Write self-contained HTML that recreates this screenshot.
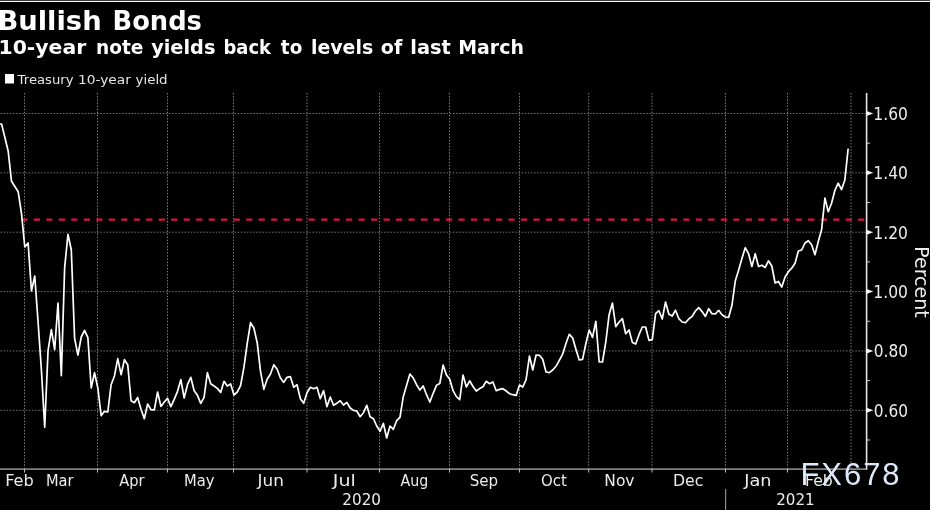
<!DOCTYPE html>
<html lang="en"><head><meta charset="utf-8"><title>Bullish Bonds</title>
<style>
html,body{margin:0;padding:0;background:#000;}
body{width:930px;height:510px;overflow:hidden;position:relative;font-family:"DejaVu Sans", "Liberation Sans", sans-serif;}
svg{will-change:transform;display:block;position:absolute;left:0;top:0;}
text{font-family:"DejaVu Sans", "Liberation Sans", sans-serif;}
.b{font-weight:bold;}
</style></head><body>
<svg width="930" height="510" viewBox="0 0 930 510">
<rect x="0" y="0" width="930" height="510" fill="#000"/>
<rect x="0" y="0" width="930" height="1" fill="#3e3e3e"/>
<rect x="0" y="1" width="930" height="1" fill="#f6f6f6"/>

<text class="b" y="29.6" font-size="27.4" fill="#fff"><tspan x="-2.59" textLength="104.21" lengthAdjust="spacingAndGlyphs">Bullish</tspan> <tspan x="112.5" textLength="89.46" lengthAdjust="spacingAndGlyphs">Bonds</tspan></text>
<text class="b" y="54.3" font-size="19.4" fill="#fff"><tspan x="-1.5" textLength="87.77" lengthAdjust="spacingAndGlyphs">10-year</tspan> <tspan x="95.99" textLength="47.34" lengthAdjust="spacingAndGlyphs">note</tspan> <tspan x="151.13" textLength="64.26" lengthAdjust="spacingAndGlyphs">yields</tspan> <tspan x="223.48" textLength="47.52" lengthAdjust="spacingAndGlyphs">back</tspan> <tspan x="280.86" textLength="21.45" lengthAdjust="spacingAndGlyphs">to</tspan> <tspan x="310.99" textLength="62.17" lengthAdjust="spacingAndGlyphs">levels</tspan> <tspan x="380.83" textLength="21.43" lengthAdjust="spacingAndGlyphs">of</tspan> <tspan x="410.27" textLength="40.46" lengthAdjust="spacingAndGlyphs">last</tspan> <tspan x="458.28" textLength="65.6" lengthAdjust="spacingAndGlyphs">March</tspan></text>
<rect x="5" y="74" width="9" height="9.5" fill="#fff"/>
<text y="84" font-size="12.9" fill="#e6e6e6"><tspan x="17.64" textLength="55.96" lengthAdjust="spacingAndGlyphs">Treasury</tspan> <tspan x="77.94" textLength="53.02" lengthAdjust="spacingAndGlyphs">10-year</tspan> <tspan x="135.49" textLength="32.13" lengthAdjust="spacingAndGlyphs">yield</tspan></text>
<g stroke="#7c7c7c" stroke-width="1" stroke-dasharray="1.5 1.62" fill="none">
<line x1="24.5" y1="93" x2="24.5" y2="468.5"/>
<line x1="97.5" y1="93" x2="97.5" y2="468.5"/>
<line x1="167.5" y1="93" x2="167.5" y2="468.5"/>
<line x1="233.5" y1="93" x2="233.5" y2="468.5"/>
<line x1="307" y1="93" x2="307" y2="468.5"/>
<line x1="379.5" y1="93" x2="379.5" y2="468.5"/>
<line x1="449.5" y1="93" x2="449.5" y2="468.5"/>
<line x1="519.5" y1="93" x2="519.5" y2="468.5"/>
<line x1="588.7" y1="93" x2="588.7" y2="468.5"/>
<line x1="652.0" y1="93" x2="652.0" y2="468.5"/>
<line x1="725.5" y1="93" x2="725.5" y2="468.5"/>
<line x1="787.5" y1="93" x2="787.5" y2="468.5"/>
<line x1="851.0" y1="93" x2="851.0" y2="468.5"/>
<line x1="0.5" y1="113.50" x2="866.5" y2="113.50" stroke="#727272"/>
<line x1="0.5" y1="172.86" x2="866.5" y2="172.86" stroke="#727272"/>
<line x1="0.5" y1="232.22" x2="866.5" y2="232.22" stroke="#727272"/>
<line x1="0.5" y1="291.58" x2="866.5" y2="291.58" stroke="#727272"/>
<line x1="0.5" y1="350.94" x2="866.5" y2="350.94" stroke="#727272"/>
<line x1="0.5" y1="410.30" x2="866.5" y2="410.30" stroke="#727272"/>
</g>
<line x1="21.3" y1="219.7" x2="866" y2="219.7" stroke="#dc143c" stroke-width="2.2" stroke-dasharray="6.2 6.29"/>
<polyline points="0,124 1.56,124 4.88,137.5 8.2,151.3 11.52,181.3 14.84,186.5 18.16,191.7 21.48,213.3 24.8,247 28.12,243 31.44,291 34.76,276 38.08,322 41.4,370 44.72,427.3 48.04,350.7 51.36,329.7 54.68,349.6 58,303 61.32,375.7 64.64,267.7 67.96,234.3 71.28,249.7 74.6,338.3 77.92,355 81.24,337 84.56,330.3 87.88,337.7 91.2,388 94.52,372.7 97.84,388 101.16,415.7 104.48,411.3 107.8,412 111.12,384.7 114.44,376 117.76,358.7 121.08,374.7 124.4,359.7 127.72,364.7 131.04,400.7 134.36,402.7 137.68,397.5 141,409.3 144.32,418.7 147.64,404 150.96,409.6 154.28,410 157.6,392 160.92,406.4 164.24,402 167.56,398.4 170.88,406.7 174.2,399.3 177.52,391.3 180.84,379.7 184.16,398 187.48,384.7 190.8,377.3 194.12,390.7 197.44,395.3 200.76,403.3 204.08,397.3 207.4,372.7 210.72,383.7 214.04,386 217.36,388.4 220.68,392.4 224,381.3 227.32,386 230.64,384 233.96,395 237.28,392 240.6,385.5 243.92,367.3 247.24,343.3 250.56,322.7 253.88,328 257.2,342.7 260.52,371.3 263.84,389.3 267.16,379.3 270.48,374 273.8,364.7 277.12,369.3 280.44,378 283.76,382.4 287.08,377.3 290.4,376.7 293.72,387.3 297.04,384.7 300.36,398.7 303.68,403.3 307,392.7 310.32,387.3 313.64,388.7 316.96,387.3 320.28,398.7 323.6,390.7 326.92,406.7 330.24,397 333.56,405.3 336.88,403.3 340.2,400.7 343.52,405 346.84,402.4 350.16,408 353.48,410.4 356.8,411 360.12,416.7 363.44,412.7 366.76,405.3 370.08,416.7 373.4,418.7 376.72,426 380.04,431.3 383.36,423.3 386.68,438 390,426 393.32,429.3 396.64,420.7 399.96,417.3 403.28,396.7 406.6,385.3 409.92,374 413.24,378 416.56,384.7 419.88,390 423.2,386 426.52,394.7 429.84,402 433.16,393.3 436.48,385.3 439.8,383.5 443.12,365 446.44,375 449.76,379.2 453.08,390.7 456.4,396.7 459.72,399.7 463.04,375 466.36,387 469.68,380.8 473,386.5 476.32,391 479.64,388.6 482.96,386.7 486.28,381.3 489.6,383.7 492.92,382 496.24,390.7 499.56,389.4 502.88,388.7 506.2,391 509.52,393.7 512.84,394.7 516.16,395.4 519.48,385 522.8,387 526.12,379.7 529.44,356 532.76,370 536.08,355 539.4,355.3 542.72,359.3 546.04,372 549.36,372.6 552.68,370 556,366.3 559.32,360.3 562.64,354.2 565.96,343.5 569.28,334.3 572.6,337.8 575.92,349.2 579.24,360 582.56,359.3 585.88,343.5 589.2,330 592.52,337.3 595.84,321.3 599.16,362 602.48,362 605.8,342 609.12,314.7 612.44,303 615.76,326.7 619.08,322 622.4,318.7 625.72,333.7 629.04,330 632.36,342.4 635.68,344 639,334.7 642.32,327 645.64,327 648.96,340.4 652.28,339.6 655.6,313.7 658.92,310.7 662.24,319 665.56,302 668.88,314.3 672.2,316 675.52,310.2 678.84,318.7 682.16,322 685.48,322.7 688.8,319 692.12,316.4 695.44,311 698.76,307.6 702.08,311.6 705.4,316.4 708.72,308.7 712.04,313.7 715.36,314 718.68,310.3 722,314.7 725.32,317 728.64,317.3 731.96,305.3 735.28,281 738.6,270.2 741.92,258.5 745.24,247.7 748.56,253.7 751.88,266.5 755.2,253.7 758.52,266.5 761.84,265.2 765.16,267.5 768.48,260.8 771.8,266 775.12,283 778.44,281.5 781.76,287 785.08,277 788.4,271.7 791.72,268.2 795.04,263.3 798.36,251 801.68,250 805,243 808.32,240.7 811.64,244.7 814.96,254.7 818.28,241.5 821.6,229.8 824.92,198 828.24,211.7 831.56,203.3 834.88,190.5 838.2,183.2 841.52,189.7 844.84,180 848.16,148.7" fill="none" stroke="#fff" stroke-width="1.7" stroke-linejoin="round" stroke-linecap="butt"/>
<rect x="0" y="468.4" width="867.3" height="1.4" fill="#a0a0a0"/>
<rect x="24.0" y="469" width="1" height="3.5" fill="#bdbdbd"/>
<rect x="97.0" y="469" width="1" height="3.5" fill="#bdbdbd"/>
<rect x="167.0" y="469" width="1" height="3.5" fill="#bdbdbd"/>
<rect x="233.0" y="469" width="1" height="3.5" fill="#bdbdbd"/>
<rect x="306.5" y="469" width="1" height="3.5" fill="#bdbdbd"/>
<rect x="379.0" y="469" width="1" height="3.5" fill="#bdbdbd"/>
<rect x="449.0" y="469" width="1" height="3.5" fill="#bdbdbd"/>
<rect x="519.0" y="469" width="1" height="3.5" fill="#bdbdbd"/>
<rect x="588.2" y="469" width="1" height="3.5" fill="#bdbdbd"/>
<rect x="651.5" y="469" width="1" height="3.5" fill="#bdbdbd"/>
<rect x="725.0" y="469" width="1" height="3.5" fill="#bdbdbd"/>
<rect x="787.0" y="469" width="1" height="3.5" fill="#bdbdbd"/>
<rect x="725" y="489" width="1.2" height="21" fill="#8c8c8c"/>
<rect x="865.8" y="93" width="1.6" height="376.4" fill="#e4e4e4"/>
<path d="M866.5,111.00 L873.3,113.50 L866.5,116.00 Z" fill="#f4f4f4"/>
<path d="M866.5,170.36 L873.3,172.86 L866.5,175.36 Z" fill="#f4f4f4"/>
<path d="M866.5,229.72 L873.3,232.22 L866.5,234.72 Z" fill="#f4f4f4"/>
<path d="M866.5,289.08 L873.3,291.58 L866.5,294.08 Z" fill="#f4f4f4"/>
<path d="M866.5,348.44 L873.3,350.94 L866.5,353.44 Z" fill="#f4f4f4"/>
<path d="M866.5,407.80 L873.3,410.30 L866.5,412.80 Z" fill="#f4f4f4"/>
<rect x="866.5" y="142.68" width="3.5" height="1" fill="#d0d0d0"/>
<rect x="866.5" y="202.04" width="3.5" height="1" fill="#d0d0d0"/>
<rect x="866.5" y="261.40" width="3.5" height="1" fill="#d0d0d0"/>
<rect x="866.5" y="320.76" width="3.5" height="1" fill="#d0d0d0"/>
<rect x="866.5" y="380.12" width="3.5" height="1" fill="#d0d0d0"/>
<rect x="866.5" y="439.48" width="3.5" height="1" fill="#d0d0d0"/>
<text y="119.8" font-size="17.4" fill="#ececec"><tspan x="873.34" textLength="34.63" lengthAdjust="spacingAndGlyphs">1.60</tspan></text>
<text y="179.16" font-size="17.4" fill="#ececec"><tspan x="873.34" textLength="34.63" lengthAdjust="spacingAndGlyphs">1.40</tspan></text>
<text y="238.52" font-size="17.4" fill="#ececec"><tspan x="873.34" textLength="34.63" lengthAdjust="spacingAndGlyphs">1.20</tspan></text>
<text y="297.88" font-size="17.4" fill="#ececec"><tspan x="873.34" textLength="34.63" lengthAdjust="spacingAndGlyphs">1.00</tspan></text>
<text y="357.24" font-size="17.4" fill="#ececec"><tspan x="873.79" textLength="34.26" lengthAdjust="spacingAndGlyphs">0.80</tspan></text>
<text y="416.6" font-size="17.4" fill="#ececec"><tspan x="873.79" textLength="34.26" lengthAdjust="spacingAndGlyphs">0.60</tspan></text>
<text fill="#ececec" transform="translate(914.8,246.2) rotate(90)" x="0" y="0" font-size="20.3" textLength="71.4" lengthAdjust="spacingAndGlyphs">Percent</text>
<text y="485.7" font-size="16.4" fill="#ececec"><tspan x="5.19" textLength="28.66" lengthAdjust="spacingAndGlyphs">Feb</tspan></text>
<text y="485.7" font-size="16.4" fill="#ececec"><tspan x="46.01" textLength="27.55" lengthAdjust="spacingAndGlyphs">Mar</tspan></text>
<text y="485.7" font-size="16.4" fill="#ececec"><tspan x="119.24" textLength="25.3" lengthAdjust="spacingAndGlyphs">Apr</tspan></text>
<text y="485.7" font-size="16.4" fill="#ececec"><tspan x="184.07" textLength="30.49" lengthAdjust="spacingAndGlyphs">May</tspan></text>
<text y="485.7" font-size="16.4" fill="#ececec"><tspan x="257.64" textLength="26.27" lengthAdjust="spacingAndGlyphs">Jun</tspan></text>
<text y="485.7" font-size="16.4" fill="#ececec"><tspan x="332.86" textLength="22.94" lengthAdjust="spacingAndGlyphs">Jul</tspan></text>
<text y="485.7" font-size="16.4" fill="#ececec"><tspan x="400.61" textLength="27.78" lengthAdjust="spacingAndGlyphs">Aug</tspan></text>
<text y="485.7" font-size="16.4" fill="#ececec"><tspan x="469.79" textLength="28.41" lengthAdjust="spacingAndGlyphs">Sep</tspan></text>
<text y="485.7" font-size="16.4" fill="#ececec"><tspan x="540.97" textLength="25.9" lengthAdjust="spacingAndGlyphs">Oct</tspan></text>
<text y="485.7" font-size="16.4" fill="#ececec"><tspan x="604.32" textLength="30.2" lengthAdjust="spacingAndGlyphs">Nov</tspan></text>
<text y="485.7" font-size="16.4" fill="#ececec"><tspan x="672.88" textLength="30.44" lengthAdjust="spacingAndGlyphs">Dec</tspan></text>
<text y="485.7" font-size="16.4" fill="#ececec"><tspan x="744.23" textLength="27.26" lengthAdjust="spacingAndGlyphs">Jan</tspan></text>
<text y="485.7" font-size="16.4" fill="#ececec"><tspan x="805.03" textLength="27.72" lengthAdjust="spacingAndGlyphs">Feb</tspan></text>
<text y="505.0" font-size="16.4" fill="#ececec"><tspan x="342.35" textLength="38.71" lengthAdjust="spacingAndGlyphs">2020</tspan></text>
<text y="505.0" font-size="16.4" fill="#ececec"><tspan x="776.22" textLength="38.43" lengthAdjust="spacingAndGlyphs">2021</tspan></text>
<text x="800.43" y="484.6" font-size="31" textLength="99.16" lengthAdjust="spacing" style="font-family:'Liberation Sans',sans-serif;fill:#dde8fb">FX678</text>
</svg>
</body></html>
